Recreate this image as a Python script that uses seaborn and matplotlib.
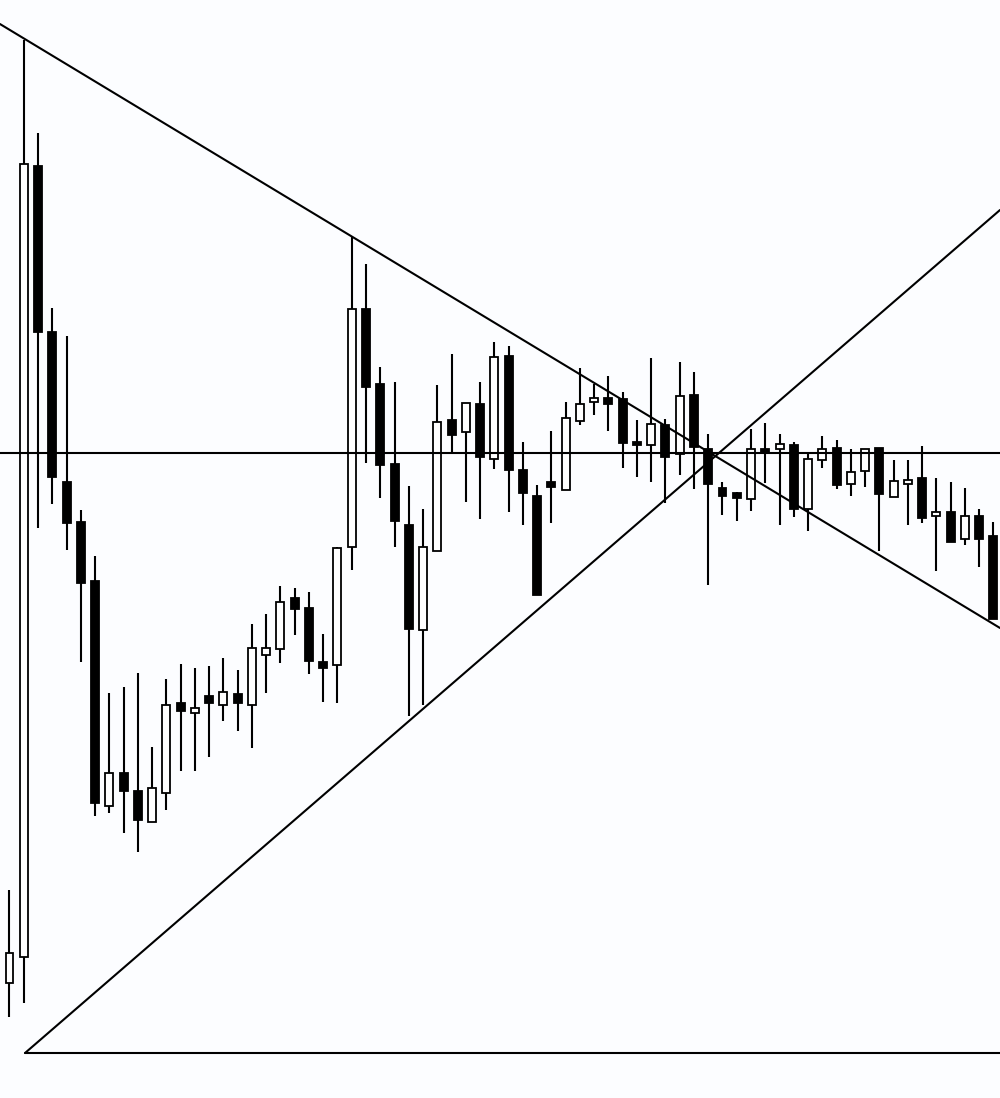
import numpy as np
import pandas as pd
import matplotlib
matplotlib.use("Agg")
import matplotlib.pyplot as plt
import seaborn as sns

# candle values (price units)
opens = [117, 143, 934, 768, 618, 578, 519, 294, 327, 309,
         278, 307, 397, 387, 404, 395, 406, 395, 445, 451,
         502, 492, 438, 435, 553, 791, 716, 636, 575, 470,
         549, 680, 668, 696, 641, 744, 630, 604, 618, 610,
         679, 698, 702, 701, 658, 655, 675, 646, 705, 651,
         612, 607, 601, 651, 651, 655, 591, 640, 652, 616,
         629, 652, 603, 616, 622, 584, 588, 561, 584, 564]
highs = [210, 1060, 967, 792, 764, 590, 544, 407, 413, 427,
         353, 421, 436, 432, 434, 442, 430, 476, 486, 514,
         512, 508, 466, 553, 863, 836, 733, 718, 614, 591,
         715, 746, 697, 718, 758, 754, 658, 615, 669, 698,
         732, 716, 724, 708, 680, 742, 681, 738, 728, 666,
         618, 608, 671, 677, 666, 658, 646, 664, 660, 651,
         651, 652, 640, 640, 654, 622, 618, 612, 591, 578]
lows = [83, 97, 572, 596, 550, 438, 284, 287, 267, 248,
        278, 290, 329, 329, 343, 379, 369, 352, 407, 437,
        465, 426, 398, 397, 530, 637, 602, 553, 384, 395,
        549, 646, 598, 581, 631, 588, 575, 505, 577, 610,
        675, 685, 669, 632, 623, 618, 597, 625, 611, 515,
        585, 579, 589, 617, 575, 583, 569, 632, 611, 604,
        613, 549, 603, 575, 577, 529, 558, 555, 533, 481]
closes = [147, 936, 768, 623, 577, 517, 297, 327, 309, 280,
          312, 395, 389, 392, 397, 408, 397, 452, 452, 498,
          491, 439, 432, 552, 791, 713, 635, 579, 471, 553,
          678, 665, 697, 643, 743, 630, 607, 505, 613, 682,
          696, 702, 696, 657, 655, 676, 643, 704, 653, 616,
          604, 602, 651, 647, 656, 591, 641, 651, 615, 628,
          651, 606, 619, 620, 582, 588, 558, 584, 561, 481]

# guide lines (candle index, price)
upper_x = [-0.67, 69.46]
upper_y = [1076, 472]
lower_x = [1.09, 69.46]
lower_y = [47, 890]
base_x = [1.09, 69.46]
base_y = [47, 47]
mid_x = [-0.67, 69.46]
mid_y = [647, 647]

df = pd.DataFrame({"open": opens, "high": highs, "low": lows, "close": closes})
df["idx"] = np.arange(len(df))
df["up"] = df["close"] >= df["open"]

sns.set_style("white")
bg = "#fcfdff"
fig = plt.figure(figsize=(10, 10.98), dpi=100, facecolor=bg)
ax = fig.add_axes([0, 0, 1, 1])
ax.set_facecolor(bg)

ax.vlines(df["idx"], df["low"], df["high"], color="black", linewidth=1.5, zorder=2)
body_lo = df[["open", "close"]].min(axis=1)
body_h = (df["close"] - df["open"]).abs().clip(lower=3)
colors = np.where(df["up"], "white", "black")
ax.bar(df["idx"], body_h, bottom=body_lo, width=0.56, color=colors,
       edgecolor="black", linewidth=1.3, zorder=3)

for lx, ly in [(upper_x, upper_y), (lower_x, lower_y), (base_x, base_y), (mid_x, mid_y)]:
    sns.lineplot(x=lx, y=ly, ax=ax, color="black", linewidth=1.5, zorder=4,
                 estimator=None, sort=False)

ax.set_xlim(-0.666, 69.46)
ax.set_ylim(2, 1100)
ax.axis("off")

fig.savefig("out.png", dpi=100, facecolor=bg)
